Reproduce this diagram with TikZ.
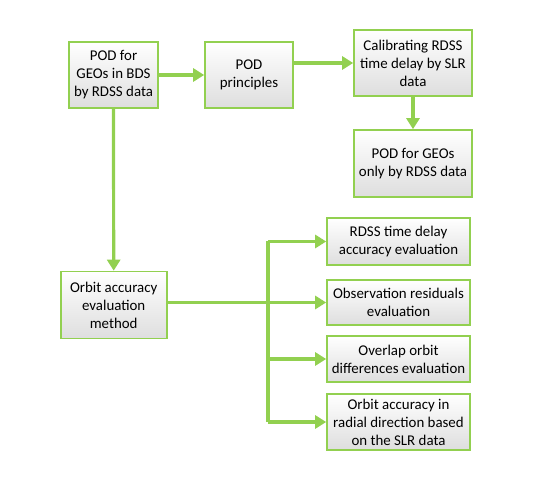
\documentclass[tikz,border=0pt]{standalone}
\usepackage{fontspec}
\setmainfont{Carlito}
\usetikzlibrary{arrows.meta}
\definecolor{leafgreen}{HTML}{92D050}

\begin{document}
\begin{tikzpicture}[x=1pt,y=-1pt,
  stepbox/.style={draw=leafgreen,line width=1.6pt,top color=white,bottom color=black!13,
    inner sep=1pt,align=center,font=\fontsize{14.9}{18}\selectfont},
  link/.style={draw=leafgreen,line width=3.2pt,-{Triangle[length=11pt,width=13pt]}}]

  \useasboundingbox (0,0) rectangle (550,486);

  \node[stepbox,minimum width=89pt,minimum height=66pt] (podbds) at (113.5,75) {POD for\\GEOs in BDS\\by RDSS data};
  \node[stepbox,minimum width=88pt,minimum height=66pt] (princ) at (249,75) {POD\\principles};
  \node[stepbox,minimum width=118pt,minimum height=66pt] (calib) at (413,63) {Calibrating RDSS\\time delay by SLR\\data};
  \node[stepbox,minimum width=118pt,minimum height=67pt] (podonly) at (413,163.5) {POD for GEOs\\only by RDSS data};

  \node[stepbox,minimum width=106pt,minimum height=67pt] (method) at (113.7,305) {Orbit accuracy\\evaluation\\method};

  \node[stepbox,minimum width=143pt,minimum height=47pt] (delay) at (398.5,241.5) {RDSS time delay\\accuracy evaluation};
  \node[stepbox,minimum width=143pt,minimum height=45pt] (resid) at (398.5,302.5) {Observation residuals\\evaluation};
  \node[stepbox,minimum width=143pt,minimum height=46pt] (overlap) at (398.5,359) {Overlap orbit\\differences evaluation};
  \node[stepbox,minimum width=143pt,minimum height=56pt] (radial) at (398.5,422) {Orbit accuracy in\\radial direction based\\on the SLR data};

  \coordinate (bustop) at (268,241.5);
  \coordinate (busbot) at (268,422);

  \draw[link] (podbds.east) -- (princ.west);
  \draw[link] (princ.east |- calib.west) -- (calib.west);
  \draw[link] (calib.south) -- (podonly.north);
  \draw[link] (podbds.south) -- (method.north);

  \draw[draw=leafgreen,line width=3.2pt] (bustop) -- (busbot);
  \draw[link] (method.east |- resid.west) -- (resid.west);
  \draw[link] (bustop) -- (delay.west);
  \draw[link] (bustop |- overlap.west) -- (overlap.west);
  \draw[link] (busbot) -- (radial.west);

\end{tikzpicture}
\end{document}
